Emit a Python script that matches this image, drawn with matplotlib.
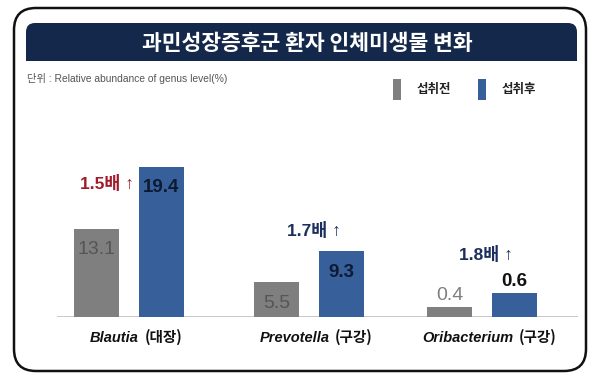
import numpy as np
import matplotlib
matplotlib.use("Agg")
import matplotlib.pyplot as plt
from matplotlib.patches import FancyBboxPatch, Rectangle
from matplotlib.offsetbox import TextArea, HPacker, AnnotationBbox

# ---------- data ----------
genus = ["Blautia", "Prevotella", "Oribacterium"]
site = ["(대장)", "(구강)", "(구강)"]
value_before = [13.1, 5.5, 0.4]          # 섭취전, printed labels
value_after = [19.4, 9.3, 0.6]           # 섭취후, printed labels
# drawn bar heights (the original is not to scale)
height_before = [11.4, 4.5, 1.3]
height_after = [19.4, 8.5, 3.1]
fold_labels = ["1.5배 ↑", "1.7배 ↑", "1.8배 ↑"]

title = "과민성장증후군 환자 인체미생물 변화"
unit_text = "단위 : Relative abundance of genus level(%)"
legend_labels = ["섭취전", "섭취후"]

# ---------- styles ----------
GRAY = "#7f7f7f"
BLUE = "#37609a"
NAVY = "#13284a"
RED = "#a01b2c"
DARKBLUE = "#1b2e5c"
KR = ["Noto Sans CJK KR", "DejaVu Sans"]
NUM = ["Liberation Sans", "Noto Sans CJK KR"]

fig = plt.figure(figsize=(6, 3.82), dpi=100)
fig.patch.set_facecolor("white")

# overlay in pixel units for frame / banner / legend
bg = fig.add_axes([0, 0, 1, 1], zorder=0)
bg.set_xlim(0, 600)
bg.set_ylim(382, 0)
bg.axis("off")

bg.add_patch(FancyBboxPatch((14, 8), 572, 363,
                            boxstyle="round,pad=0,rounding_size=22",
                            fc="white", ec="#111111", lw=1.8))
bg.add_patch(FancyBboxPatch((26, 23), 551, 38,
                            boxstyle="round,pad=0,rounding_size=9",
                            fc=NAVY, ec="none"))
bg.add_patch(Rectangle((26, 42), 551, 19, fc=NAVY, ec="none"))
bg.text(307, 43, title, color="white", fontsize=15.5, fontweight="bold",
        family=KR, ha="center", va="center")
bg.text(27, 79, unit_text, color="#555555", fontsize=7.4, family=NUM,
        ha="left", va="center")

# legend
for (x0, lab, col) in [(393, legend_labels[0], GRAY), (478, legend_labels[1], BLUE)]:
    bg.add_patch(Rectangle((x0, 79), 8, 21, fc=col, ec="none"))
    bg.text(x0 + 24, 89, lab, color="#222222", fontsize=9, fontweight="bold",
            family=KR, ha="left", va="center")

# ---------- bars ----------
ax = fig.add_axes([57 / 600, 1 - 317 / 382, 521 / 600, 187 / 382], zorder=1)
ax.patch.set_visible(False)
x = np.array([0.0, 1.02, 2.0])   # group centres
w = 0.255
off = 0.184
ax.bar(x - off, height_before, w, color=GRAY, zorder=2)
ax.bar(x + off, height_after, w, color=BLUE, zorder=2)
ax.axhline(0, color="#bfbfbf", lw=1.2, zorder=1)
ax.set_xlim(-0.408, 2.544)
ax.set_ylim(0, 24.2)
ax.axis("off")

# value labels
for i in range(len(genus)):
    if height_before[i] > 3:
        ax.annotate(f"{value_before[i]}", (x[i] - off, height_before[i]),
                    xytext=(0, -15), textcoords="offset points",
                    ha="center", va="center", fontsize=14, color="#555555",
                    family=NUM)
        ax.annotate(f"{value_after[i]}", (x[i] + off, height_after[i]),
                    xytext=(0, -15), textcoords="offset points",
                    ha="center", va="center", fontsize=13.5, color="#0d1a33",
                    fontweight="bold", family=NUM)
    else:
        ax.annotate(f"{value_before[i]}", (x[i] - off, height_before[i]),
                    xytext=(0, 8), textcoords="offset points",
                    ha="center", va="center", fontsize=14, color=GRAY,
                    family=NUM)
        ax.annotate(f"{value_after[i]}", (x[i] + off, height_after[i]),
                    xytext=(0, 8), textcoords="offset points",
                    ha="center", va="center", fontsize=13.5, color="#111111",
                    fontweight="bold", family=NUM)

# fold-change annotations
fold_pos = [(-0.125, 17.3), (1.05, 11.25), (2.02, 8.15)]
fold_col = [RED, DARKBLUE, DARKBLUE]
for lab, (fx, fy), c in zip(fold_labels, fold_pos, fold_col):
    ax.text(fx, fy, lab, color=c, fontsize=12.5, fontweight="bold",
            family=NUM, ha="center", va="center")

# category labels: italic genus + korean site
for i in range(len(genus)):
    t1 = TextArea(genus[i], textprops=dict(fontsize=10.5, fontstyle="italic",
                                           fontweight="bold", family=NUM,
                                           color="#111111"))
    t2 = TextArea(site[i], textprops=dict(fontsize=10.5, fontweight="bold",
                                          family=KR, color="#111111"))
    pack = HPacker(children=[t1, t2], pad=0, sep=4, align="baseline")
    ab = AnnotationBbox(pack, (x[i] + 0.04, 0), xybox=(0, -14.4),
                        boxcoords="offset points", frameon=False,
                        box_alignment=(0.5, 0.5), annotation_clip=False)
    ax.add_artist(ab)

fig.savefig("out.png", dpi=100)
